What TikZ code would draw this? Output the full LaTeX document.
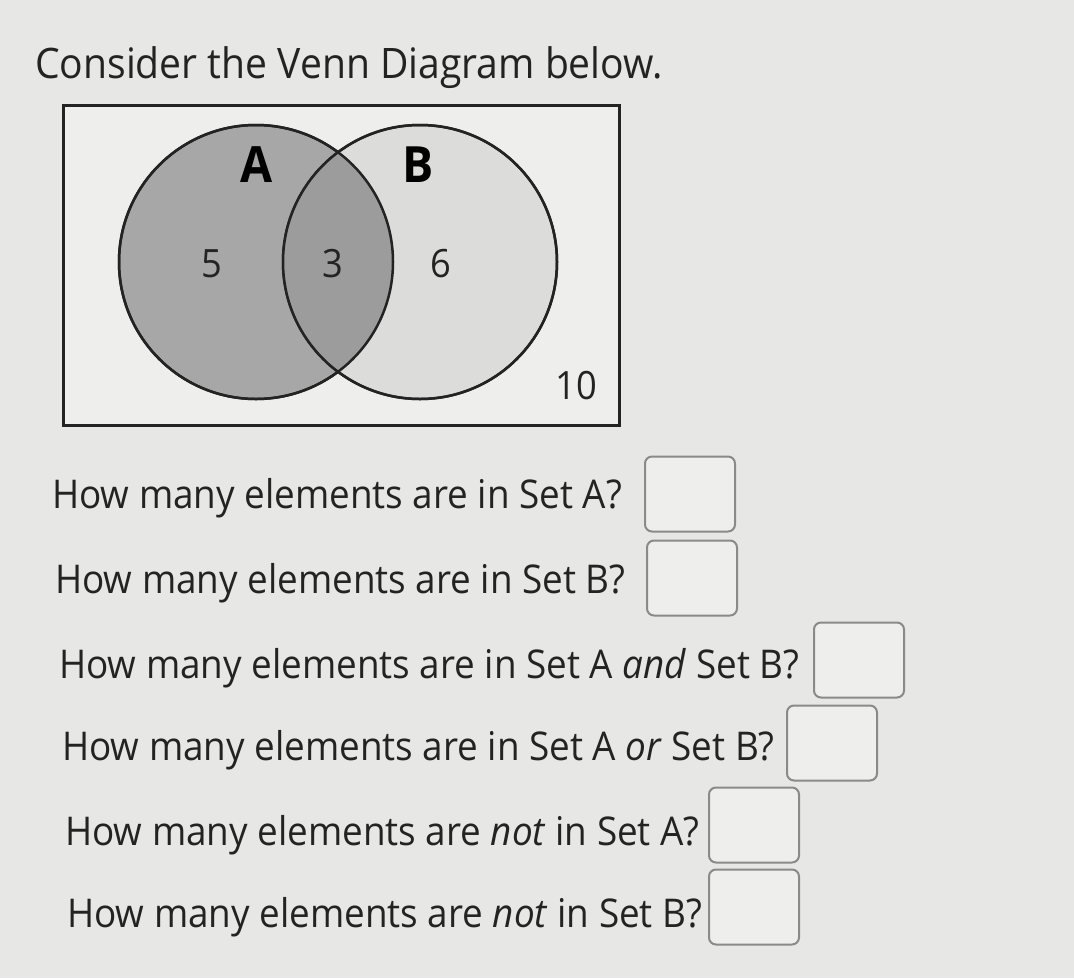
\documentclass[tikz,border=0pt]{standalone}
\usepackage{fontspec}
\setmainfont{Open Sans}[FakeStretch=0.93]
\usetikzlibrary{positioning}
\definecolor{pagegrey}{HTML}{E7E7E5}
\definecolor{framefill}{HTML}{EEEEEC}
\definecolor{agrey}{HTML}{A7A7A7}
\definecolor{lensgrey}{HTML}{9C9C9C}
\definecolor{bgrey}{HTML}{DCDCDB}
\definecolor{inkgrey}{HTML}{232323}
\definecolor{boxgrey}{HTML}{8A8A8A}
\tikzset{
  setcircle/.style={circle, draw=inkgrey, line width=2.5pt, minimum size=274pt, inner sep=0pt},
  setname/.style={font=\fontsize{50}{52}\selectfont\bfseries, text=black},
  count/.style={font=\fontsize{39}{40}\selectfont, text=inkgrey},
  question/.style={anchor=base west, inner sep=0pt, font=\fontsize{39.6}{42}\selectfont, text=inkgrey},
  answerbox/.style={draw=boxgrey, line width=2pt, rounded corners=7pt, fill=framefill, minimum width=90pt, minimum height=75pt}
}

\begin{document}
\begin{tikzpicture}[x=1pt, y=-1pt]

  \newcommand\R{137pt}

  \fill[pagegrey] (0,0) rectangle (1074,978);
  \useasboundingbox (0,0) rectangle (1074,978);

  \node[question, font=\fontsize{42}{44}\selectfont] (title) at (35,78) {Consider the Venn Diagram below.};

  % diagram
  \node[draw=inkgrey, line width=3pt, fill=framefill, minimum width=556pt, minimum height=320pt, inner sep=0pt] (frame) at (341,265) {};

  \node[setcircle, fill=agrey] (setA) at (256,262) {};
  \node[setcircle, fill=bgrey] (setB) at (420,262) {};
  \begin{scope}
    \clip (setA.center) circle (\R);
    \fill[lensgrey] (setB.center) circle (\R);
  \end{scope}
  \draw[inkgrey, line width=2.5pt] (setA.center) circle (\R);
  \draw[inkgrey, line width=2.5pt] (setB.center) circle (\R);

  \node[setname] (nameA) at (257,165) {A};
  \node[setname] (nameB) at (418,165) {B};
  \node[count] (onlyA) at (212,264) {5};
  \node[count] (both) at (333,264) {3};
  \node[count] (onlyB) at (441,264) {6};
  \node[count] (outside) at (576,386) {10};

  % questions
  \node[question] (q1) at (52,508) {How many elements are in Set A?};
  \node[question] (q2) at (55,593) {How many elements are in Set B?};
  \node[question] (q3) at (59,678) {How many elements are in Set A \textit{and} Set B?};
  \node[question] (q4) at (62,760) {How many elements are in Set A \textit{or} Set B?};
  \node[question] (q5) at (65,845) {How many elements are \textit{not} in Set A?};
  \node[question] (q6) at (67,927) {How many elements are \textit{not} in Set B?};

  \node[answerbox] (ans1) at (690,494) {};
  \node[answerbox] (ans2) at (692,578) {};
  \node[answerbox] (ans3) at (859,660) {};
  \node[answerbox] (ans4) at (832,743) {};
  \node[answerbox] (ans5) at (754,825) {};
  \node[answerbox] (ans6) at (754,907) {};

\end{tikzpicture}
\end{document}
